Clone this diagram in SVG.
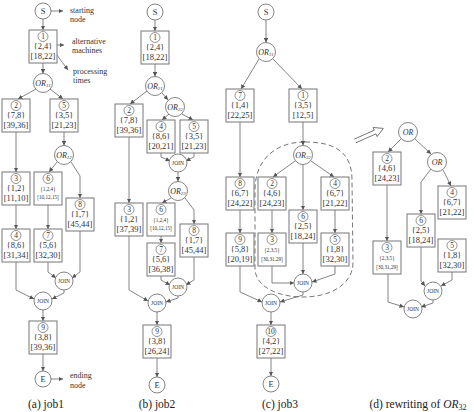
<svg xmlns="http://www.w3.org/2000/svg" width="474" height="412" viewBox="0 0 474 412">
<defs>
<marker id="ah" viewBox="0 0 6 6" refX="6" refY="3" markerWidth="4.5" markerHeight="4.5" orient="auto" markerUnits="userSpaceOnUse"><path d="M0,0 L6,3 L0,6 z" fill="#555"/></marker>
</defs>
<style>
.bx{fill:#fff;stroke:#777;stroke-width:1}
.nn{fill:#fff;stroke:#666;stroke-width:0.7}
.nc{fill:#fff;stroke:#666;stroke-width:0.8}
text{font-family:"Liberation Serif","Times New Roman",serif;fill:#333}
.n{font-size:7.5px;text-anchor:middle}
.l{font-size:8.5px;text-anchor:middle}
.s{font-size:5.2px;text-anchor:middle}
.or{font-size:8px;font-style:italic;text-anchor:middle}
.sub{font-size:5px}
.j{font-size:5.5px;text-anchor:middle}
.se{font-size:8.5px;text-anchor:middle}
.ann{font-size:8px}
.cap{font-size:11.5px;text-anchor:middle;fill:#222}
#conn path{fill:none;stroke:#666;stroke-width:0.8;marker-end:url(#ah)}
#region{fill:none;stroke:#666;stroke-width:0.9;stroke-dasharray:5,3}
#big{fill:#fff;stroke:#666;stroke-width:0.8}
</style>
<rect width="474" height="412" fill="#fff"/>
<path id="region" d="M305,142 C335,142 352,152 352,180 L353,262 C353,285 330,297 303,297 C280,297 255,288 255,268 L255,190 C255,160 275,142 305,142 Z"/>
<path id="big" d="M0,-2 H22 V-5 L31,0 L22,5 V2 H0" transform="translate(355,141) rotate(-24)"/>
<g id="conn">
<path d="M43,19 V30"/>
<path d="M51,11 H63"/>
<path d="M54,45 H64"/>
<path d="M57,55 Q62,62 68,70"/>
<path d="M43,63 V73.5"/>
<path d="M36,89 L18,99"/>
<path d="M50,89 L63,99"/>
<path d="M16,132 V172"/>
<path d="M64,132 V145.5"/>
<path d="M57,162 L49,172"/>
<path d="M71,162 L80,176 V198"/>
<path d="M16,205 V229"/>
<path d="M48,205 V229"/>
<path d="M48,262 V272 L56,278"/>
<path d="M80,231 V272 L72,278"/>
<path d="M16,262 V290 L34,299"/>
<path d="M64,290 V293 L52,299"/>
<path d="M43,310 V321"/>
<path d="M43,354 V371"/>
<path d="M51,379 H63"/>
<path d="M155,20 V31"/>
<path d="M155,64 V76.5"/>
<path d="M147,91 L130,104"/>
<path d="M162,93 L168,100"/>
<path d="M169,114 L162,120"/>
<path d="M182,114 L193,120"/>
<path d="M161,153 V157 L170,161"/>
<path d="M194,153 V157 L186,161"/>
<path d="M178,172 V181.5"/>
<path d="M171,198 L162,203"/>
<path d="M185,198 L194,210 V224"/>
<path d="M129,137 V203"/>
<path d="M161,236 V243"/>
<path d="M161,276 V280 L170,285"/>
<path d="M194,257 V280 L186,285"/>
<path d="M129,236 V290 L148,301"/>
<path d="M178,296 V298 L166,302"/>
<path d="M157,312 V325"/>
<path d="M157,358 V377"/>
<path d="M266,20 V42.5"/>
<path d="M259,59 L241,89"/>
<path d="M273,59 L302,89"/>
<path d="M303,122 V145.5"/>
<path d="M240,122 V177"/>
<path d="M295,161 L273,177"/>
<path d="M303,164.5 V210"/>
<path d="M311,161 L334,177"/>
<path d="M240,210 V233"/>
<path d="M272,210 V233"/>
<path d="M335,210 V233"/>
<path d="M272,266 V283 H294"/>
<path d="M303,243 V274"/>
<path d="M335,266 V274 L312,282"/>
<path d="M240,266 V292 L262,302"/>
<path d="M303,292 V295 L280,302"/>
<path d="M271,312 V325"/>
<path d="M271,358 V376"/>
<path d="M401,139 L388,152"/>
<path d="M415,139 L431,154"/>
<path d="M431,169 L421,182 V214"/>
<path d="M443,170 L451,186"/>
<path d="M387,185 V241"/>
<path d="M421,247 V281 L425,286"/>
<path d="M452,272 V280 L441,286"/>
<path d="M388,274 V302 L404,307"/>
<path d="M433,300 V303 L421,307"/>
</g>
<g id="ann">
<text class="ann" x="70" y="13">starting</text><text class="ann" x="70" y="22">node</text>
<text class="ann" x="72" y="44">alternative</text><text class="ann" x="72" y="53">machines</text>
<text class="ann" x="73" y="74">processing</text><text class="ann" x="73" y="83">times</text>
<text class="ann" x="70" y="378">ending</text><text class="ann" x="70" y="388">node</text>
</g>
<!-- job1 -->
<g id="a_S"><circle class="nc" cx="43" cy="11" r="8"/><text class="se" x="43" y="14">S</text></g>
<g id="a1"><rect class="bx" x="29" y="30" width="28" height="33"/><circle class="nn" cx="43" cy="36.5" r="5"/><text class="n" x="43" y="39">1</text><text class="l" x="43" y="49">{2,4}</text><text class="l" x="43" y="59">[18,22]</text></g>
<g id="a_or11"><circle class="nc" cx="43" cy="83" r="9.5"/><text class="or" x="43" y="85.5">OR<tspan class="sub" dy="1.5">11</tspan></text></g>
<g id="a2"><rect class="bx" x="2" y="99" width="28" height="33"/><circle class="nn" cx="16" cy="105.5" r="5"/><text class="n" x="16" y="108">2</text><text class="l" x="16" y="118">{7,8}</text><text class="l" x="16" y="128">[39,36]</text></g>
<g id="a5"><rect class="bx" x="50" y="99" width="28" height="33"/><circle class="nn" cx="64" cy="105.5" r="5"/><text class="n" x="64" y="108">5</text><text class="l" x="64" y="118">{3,5}</text><text class="l" x="64" y="128">[21,23]</text></g>
<g id="a_or12"><circle class="nc" cx="64" cy="155" r="9.5"/><text class="or" x="64" y="157.5">OR<tspan class="sub" dy="1.5">12</tspan></text></g>
<g id="a3"><rect class="bx" x="2" y="172" width="28" height="33"/><circle class="nn" cx="16" cy="178.5" r="5"/><text class="n" x="16" y="181">3</text><text class="l" x="16" y="191">{1,2}</text><text class="l" x="16" y="201">[11,10]</text></g>
<g id="a6"><rect class="bx" x="34" y="172" width="28" height="33"/><circle class="nn" cx="48" cy="178.5" r="5"/><text class="n" x="48" y="181">6</text><text class="s" x="48" y="191">{1,2,4}</text><text class="s" x="48" y="199">[10,12,15]</text></g>
<g id="a8"><rect class="bx" x="66" y="198" width="28" height="33"/><circle class="nn" cx="80" cy="204.5" r="5"/><text class="n" x="80" y="207">8</text><text class="l" x="80" y="217">{1,7}</text><text class="l" x="80" y="227">[45,44]</text></g>
<g id="a4"><rect class="bx" x="2" y="229" width="28" height="33"/><circle class="nn" cx="16" cy="235.5" r="5"/><text class="n" x="16" y="238">4</text><text class="l" x="16" y="248">{8,6}</text><text class="l" x="16" y="258">[31,34]</text></g>
<g id="a7"><rect class="bx" x="34" y="229" width="28" height="33"/><circle class="nn" cx="48" cy="235.5" r="5"/><text class="n" x="48" y="238">7</text><text class="l" x="48" y="248">{5,6}</text><text class="l" x="48" y="258">[32,30]</text></g>
<g id="a_j1"><circle class="nc" cx="64" cy="281" r="9"/><text class="j" x="64" y="283">JOIN</text></g>
<g id="a_j2"><circle class="nc" cx="43" cy="301" r="9"/><text class="j" x="43" y="303">JOIN</text></g>
<g id="a9"><rect class="bx" x="29" y="321" width="28" height="33"/><circle class="nn" cx="43" cy="327.5" r="5"/><text class="n" x="43" y="330">9</text><text class="l" x="43" y="340">{3,8}</text><text class="l" x="43" y="350">[39,36]</text></g>
<g id="a_E"><circle class="nc" cx="43" cy="379" r="8"/><text class="se" x="43" y="382">E</text></g>
<!-- job2 -->
<g id="b_S"><circle class="nc" cx="155" cy="12" r="8"/><text class="se" x="155" y="15">S</text></g>
<g id="b1"><rect class="bx" x="141" y="31" width="28" height="33"/><circle class="nn" cx="155" cy="37.5" r="5"/><text class="n" x="155" y="40">1</text><text class="l" x="155" y="50">{2,4}</text><text class="l" x="155" y="60">[18,22]</text></g>
<g id="b_or21"><circle class="nc" cx="155" cy="86" r="9.5"/><text class="or" x="155" y="88.5">OR<tspan class="sub" dy="1.5">21</tspan></text></g>
<g id="b2"><rect class="bx" x="115" y="104" width="28" height="33"/><circle class="nn" cx="129" cy="110.5" r="5"/><text class="n" x="129" y="113">2</text><text class="l" x="129" y="123">{7,8}</text><text class="l" x="129" y="133">[39,36]</text></g>
<g id="b_or22"><circle class="nc" cx="175" cy="107" r="9.5"/><text class="or" x="175" y="109.5">OR<tspan class="sub" dy="1.5">22</tspan></text></g>
<g id="b4"><rect class="bx" x="147" y="120" width="28" height="33"/><circle class="nn" cx="161" cy="126.5" r="5"/><text class="n" x="161" y="129">4</text><text class="l" x="161" y="139">{8,6}</text><text class="l" x="161" y="149">[20,21]</text></g>
<g id="b5"><rect class="bx" x="180" y="120" width="28" height="33"/><circle class="nn" cx="194" cy="126.5" r="5"/><text class="n" x="194" y="129">5</text><text class="l" x="194" y="139">{3,5}</text><text class="l" x="194" y="149">[21,23]</text></g>
<g id="b_j0"><circle class="nc" cx="178" cy="163" r="9"/><text class="j" x="178" y="165">JOIN</text></g>
<g id="b_or23"><circle class="nc" cx="178" cy="191" r="9.5"/><text class="or" x="178" y="193.5">OR<tspan class="sub" dy="1.5">23</tspan></text></g>
<g id="b3"><rect class="bx" x="115" y="203" width="28" height="33"/><circle class="nn" cx="129" cy="209.5" r="5"/><text class="n" x="129" y="212">3</text><text class="l" x="129" y="222">{1,2}</text><text class="l" x="129" y="232">[37,39]</text></g>
<g id="b6"><rect class="bx" x="147" y="203" width="28" height="33"/><circle class="nn" cx="161" cy="209.5" r="5"/><text class="n" x="161" y="212">6</text><text class="s" x="161" y="222">{1,2,4}</text><text class="s" x="161" y="230">[10,12,15]</text></g>
<g id="b8"><rect class="bx" x="180" y="224" width="28" height="33"/><circle class="nn" cx="194" cy="230.5" r="5"/><text class="n" x="194" y="233">8</text><text class="l" x="194" y="243">{1,7}</text><text class="l" x="194" y="253">[45,44]</text></g>
<g id="b7"><rect class="bx" x="147" y="243" width="28" height="33"/><circle class="nn" cx="161" cy="249.5" r="5"/><text class="n" x="161" y="252">7</text><text class="l" x="161" y="262">{5,6}</text><text class="l" x="161" y="272">[36,38]</text></g>
<g id="b_j1"><circle class="nc" cx="178" cy="287" r="9"/><text class="j" x="178" y="289">JOIN</text></g>
<g id="b_j2"><circle class="nc" cx="157" cy="303" r="9"/><text class="j" x="157" y="305">JOIN</text></g>
<g id="b9"><rect class="bx" x="143" y="325" width="28" height="33"/><circle class="nn" cx="157" cy="331.5" r="5"/><text class="n" x="157" y="334">9</text><text class="l" x="157" y="344">{3,8}</text><text class="l" x="157" y="354">[26,24]</text></g>
<g id="b_E"><circle class="nc" cx="157" cy="385" r="8"/><text class="se" x="157" y="388">E</text></g>
<!-- job3 -->
<g id="c_S"><circle class="nc" cx="266" cy="12" r="8"/><text class="se" x="266" y="15">S</text></g>
<g id="c_or31"><circle class="nc" cx="266" cy="52" r="9.5"/><text class="or" x="266" y="54.5">OR<tspan class="sub" dy="1.5">31</tspan></text></g>
<g id="c7"><rect class="bx" x="226" y="89" width="28" height="33"/><circle class="nn" cx="240" cy="95.5" r="5"/><text class="n" x="240" y="98">7</text><text class="l" x="240" y="108">{1,4}</text><text class="l" x="240" y="118">[22,25]</text></g>
<g id="c1"><rect class="bx" x="289" y="89" width="28" height="33"/><circle class="nn" cx="303" cy="95.5" r="5"/><text class="n" x="303" y="98">1</text><text class="l" x="303" y="108">{3,5}</text><text class="l" x="303" y="118">[12,5]</text></g>
<g id="c_or32"><circle class="nc" cx="303" cy="155" r="9.5"/><text class="or" x="303" y="157.5">OR<tspan class="sub" dy="1.5">32</tspan></text></g>
<g id="c8"><rect class="bx" x="226" y="177" width="28" height="33"/><circle class="nn" cx="240" cy="183.5" r="5"/><text class="n" x="240" y="186">8</text><text class="l" x="240" y="196">{6,7}</text><text class="l" x="240" y="206">[24,22]</text></g>
<g id="c2"><rect class="bx" x="258" y="177" width="28" height="33"/><circle class="nn" cx="272" cy="183.5" r="5"/><text class="n" x="272" y="186">2</text><text class="l" x="272" y="196">{4,6}</text><text class="l" x="272" y="206">[24,23]</text></g>
<g id="c4"><rect class="bx" x="321" y="177" width="28" height="33"/><circle class="nn" cx="335" cy="183.5" r="5"/><text class="n" x="335" y="186">4</text><text class="l" x="335" y="196">{6,7}</text><text class="l" x="335" y="206">[21,22]</text></g>
<g id="c6"><rect class="bx" x="289" y="210" width="28" height="33"/><circle class="nn" cx="303" cy="216.5" r="5"/><text class="n" x="303" y="219">6</text><text class="l" x="303" y="229">{2,5}</text><text class="l" x="303" y="239">[18,24]</text></g>
<g id="c9"><rect class="bx" x="226" y="233" width="28" height="33"/><circle class="nn" cx="240" cy="239.5" r="5"/><text class="n" x="240" y="242">9</text><text class="l" x="240" y="252">{5,8}</text><text class="l" x="240" y="262">[20,19]</text></g>
<g id="c3"><rect class="bx" x="258" y="233" width="28" height="33"/><circle class="nn" cx="272" cy="239.5" r="5"/><text class="n" x="272" y="242">3</text><text class="s" x="272" y="252">{2,3,5}</text><text class="s" x="272" y="261">[30,31,29]</text></g>
<g id="c5"><rect class="bx" x="321" y="233" width="28" height="33"/><circle class="nn" cx="335" cy="239.5" r="5"/><text class="n" x="335" y="242">5</text><text class="l" x="335" y="252">{1,8}</text><text class="l" x="335" y="262">[32,30]</text></g>
<g id="c_j1"><circle class="nc" cx="303" cy="283" r="9"/><text class="j" x="303" y="285">JOIN</text></g>
<g id="c_j2"><circle class="nc" cx="271" cy="303" r="9"/><text class="j" x="271" y="305">JOIN</text></g>
<g id="c10"><rect class="bx" x="257" y="325" width="28" height="33"/><circle class="nn" cx="271" cy="331.5" r="5"/><text class="n" x="271" y="334">10</text><text class="l" x="271" y="344">{4,2}</text><text class="l" x="271" y="354">[27,22]</text></g>
<g id="c_E"><circle class="nc" cx="271" cy="384" r="8"/><text class="se" x="271" y="387">E</text></g>
<!-- rewriting -->
<g id="d_or1"><circle class="nc" cx="408" cy="132" r="9.5"/><text class="or" x="408" y="135">OR</text></g>
<g id="d_or2"><circle class="nc" cx="437" cy="162" r="9.5"/><text class="or" x="437" y="165">OR</text></g>
<g id="d2"><rect class="bx" x="373" y="152" width="28" height="33"/><circle class="nn" cx="387" cy="158.5" r="5"/><text class="n" x="387" y="161">2</text><text class="l" x="387" y="171">{4,6}</text><text class="l" x="387" y="181">[24,23]</text></g>
<g id="d4"><rect class="bx" x="438" y="186" width="28" height="33"/><circle class="nn" cx="452" cy="192.5" r="5"/><text class="n" x="452" y="195">4</text><text class="l" x="452" y="205">{6,7}</text><text class="l" x="452" y="215">[21,22]</text></g>
<g id="d6"><rect class="bx" x="407" y="214" width="28" height="33"/><circle class="nn" cx="421" cy="220.5" r="5"/><text class="n" x="421" y="223">6</text><text class="l" x="421" y="233">{2,5}</text><text class="l" x="421" y="243">[18,24]</text></g>
<g id="d3"><rect class="bx" x="373" y="241" width="28" height="33"/><circle class="nn" cx="387" cy="247.5" r="5"/><text class="n" x="387" y="250">3</text><text class="s" x="387" y="260">{2,3,5}</text><text class="s" x="387" y="269">[30,31,29]</text></g>
<g id="d5"><rect class="bx" x="438" y="239" width="28" height="33"/><circle class="nn" cx="452" cy="245.5" r="5"/><text class="n" x="452" y="248">5</text><text class="l" x="452" y="258">{1,8}</text><text class="l" x="452" y="268">[32,30]</text></g>
<g id="d_j1"><circle class="nc" cx="433" cy="291" r="9"/><text class="j" x="433" y="293">JOIN</text></g>
<g id="d_j2"><circle class="nc" cx="413" cy="309" r="9"/><text class="j" x="413" y="311">JOIN</text></g>
<g id="captions">
<text class="cap" x="46" y="408">(a) job1</text>
<text class="cap" x="157" y="408">(b) job2</text>
<text class="cap" x="280" y="408">(c) job3</text>
<text class="cap" x="418" y="408">(d) rewriting of <tspan font-style="italic">OR</tspan><tspan font-size="8px" dy="2">32</tspan></text>
</g>
</svg>
